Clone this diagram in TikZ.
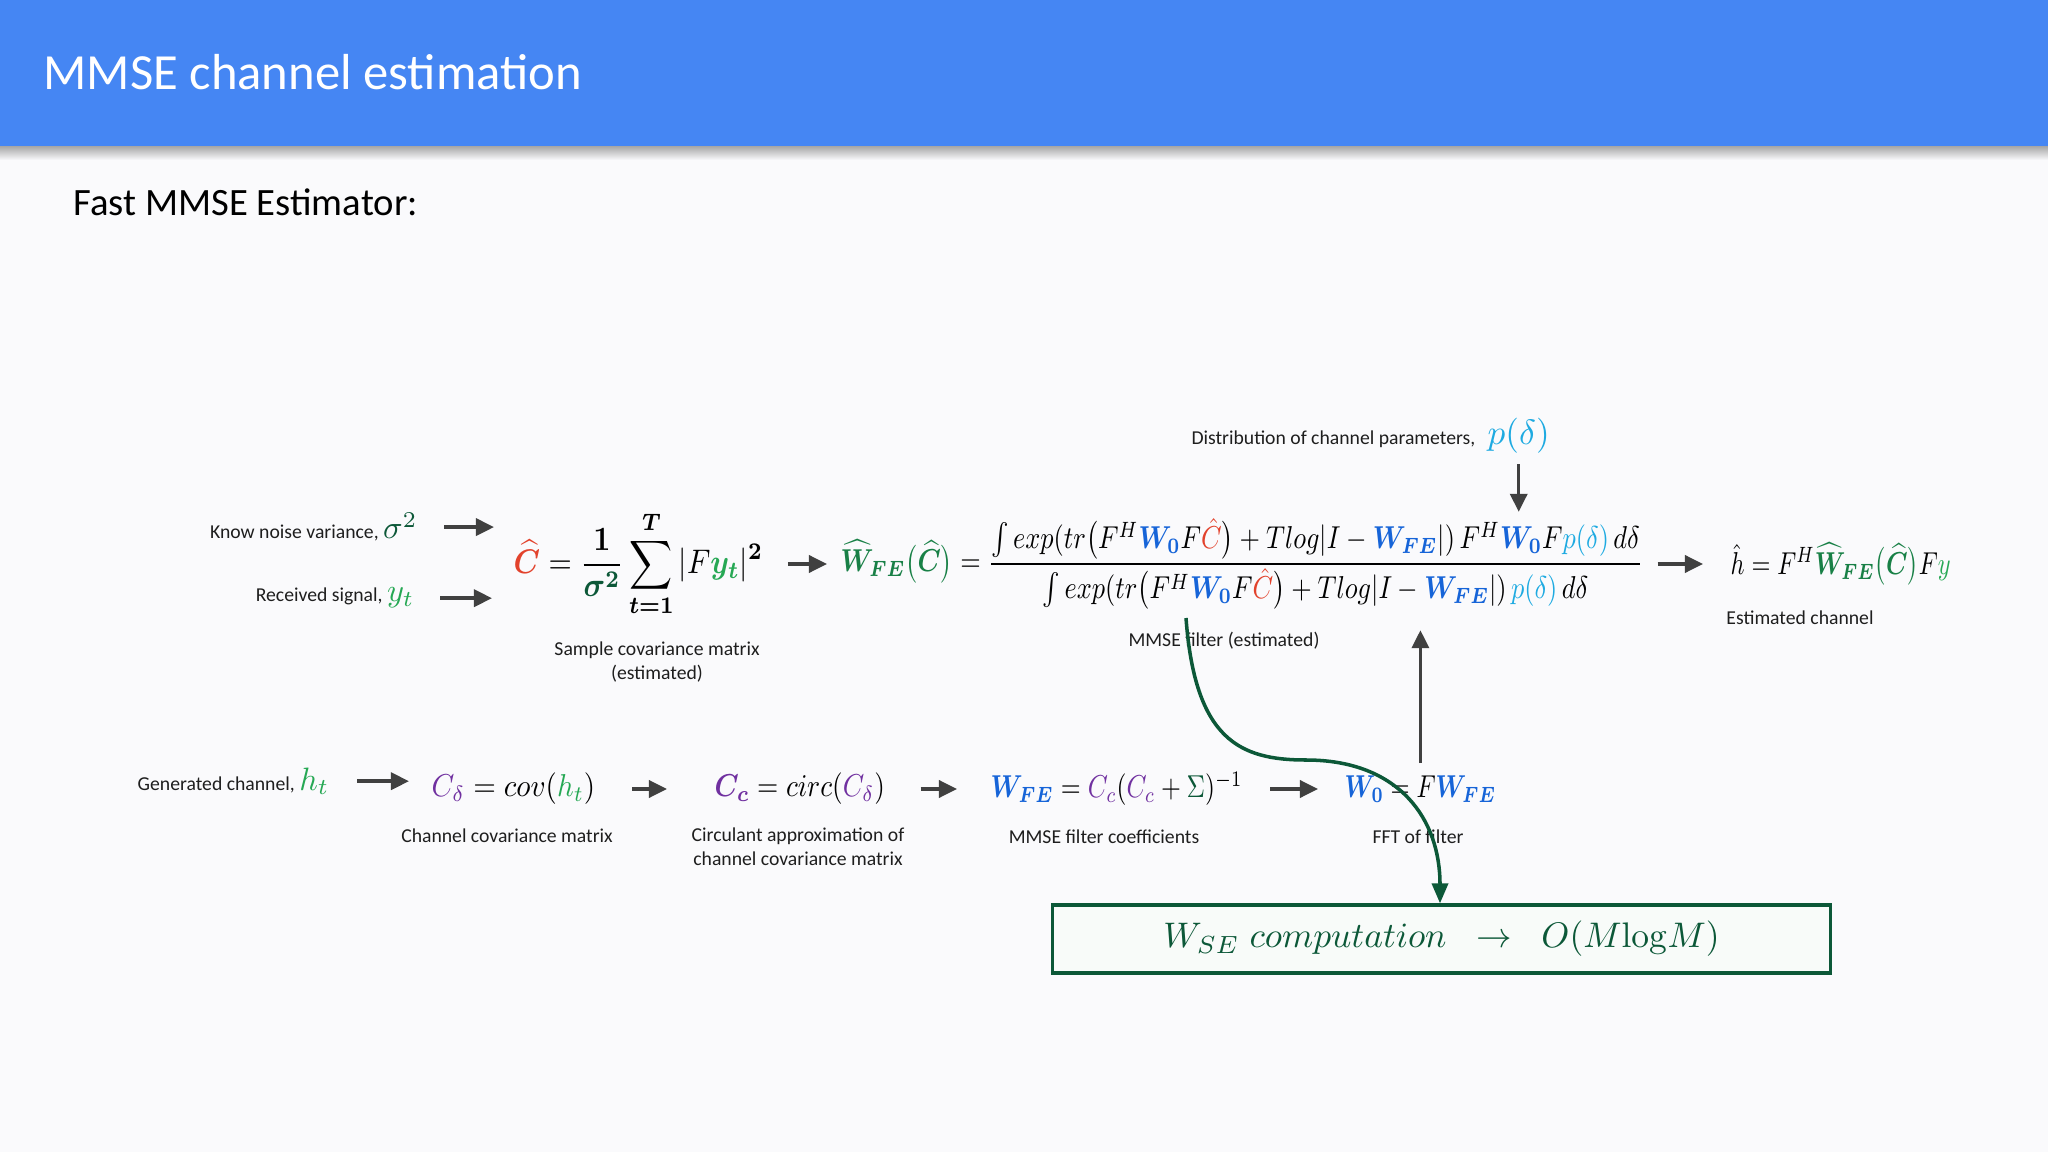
\RequirePackage{fix-cm}
\documentclass[tikz,border=0pt]{standalone}
\usepackage{amsmath}
\usepackage{bm}
\usepackage[no-math]{fontspec}
\setmainfont{Carlito}
\usetikzlibrary{arrows.meta,positioning}
\definecolor{hdrblue}{RGB}{69,134,243}
\definecolor{bgwhite}{RGB}{250,250,252}
\definecolor{boxfill}{RGB}{248,251,249}
\definecolor{dkgreen}{RGB}{12,88,56}
\definecolor{ygreen}{RGB}{38,168,84}
\definecolor{wgreen}{RGB}{24,128,70}
\definecolor{chatred}{RGB}{226,66,44}
\definecolor{wblue}{RGB}{22,100,216}
\definecolor{pblue}{RGB}{30,170,225}
\definecolor{cpurple}{RGB}{112,48,160}
\definecolor{arrowgrey}{RGB}{64,64,64}
\definecolor{lbltext}{RGB}{30,30,30}
\newcommand{\lsz}{\fontsize{5.6}{6.8}\selectfont}
\newcommand{\sqz}[3][0.9]{\scalebox{#2}[#1]{#3}}
\newcommand{\lmath}[1]{{\normalsize\scalebox{0.92}{$#1$}}}
\newcommand{\Wzero}{\textcolor{wblue}{\bm{W}_{\bm{0}}}}
\newcommand{\Wfilt}{\textcolor{wblue}{\bm{W}_{\bm{FE}}}}
\newcommand{\Cest}{\textcolor{chatred}{\hat{C}}}
\newcommand{\pdel}{\textcolor{pblue}{p(\delta)}}
\newcommand{\Whatfe}{\textcolor{wgreen}{\widehat{\bm{W}}_{\bm{FE}}\bigl(\widehat{\bm{C}}\bigr)}}
\tikzstyle{formula} = [font=\normalsize, inner sep=0pt]
\tikzstyle{lbl} = [font=\lsz, text=lbltext, inner sep=0pt, align=center]
\tikzstyle{arrow} = [line width=1pt, color=arrowgrey, -{Triangle[length=1.8mm, width=1.7mm]}]
\tikzstyle{curve} = [line width=1pt, color=dkgreen, -{Triangle[length=2mm, width=1.6mm]}]
\tikzstyle{resultbox} = [draw=dkgreen, line width=0.9pt, fill=boxfill, minimum width=7.77cm, minimum height=0.68cm, text=dkgreen, font=\fontsize{10.1}{12}\selectfont]
\begin{document}
\begin{tikzpicture}[x=0.01cm, y=-0.01cm]
\useasboundingbox (0,0) rectangle (2048,1152);
% Slide background and header
\fill[bgwhite] (0,0) rectangle (2048,1152);
\shade[top color=black!35, bottom color=bgwhite] (0,146) rectangle (2048,160);
\fill[hdrblue] (0,0) rectangle (2048,146);
\node[anchor=west, inner sep=0pt, text=white, font=\fontsize{14.4}{17}\selectfont] (title) at (43,72) {MMSE channel estimation};
\node[anchor=west, inner sep=0pt, font=\fontsize{11}{13}\selectfont] (subtitle) at (73,202) {Fast MMSE Estimator:};

% Estimated filter path
\node[lbl, anchor=base east] (noise) at (418,539) {Know noise variance,~\lmath{\textcolor{dkgreen}{\sigma^2}}};
\node[lbl, anchor=base east] (received) at (415,602) {Received signal,~\lmath{\textcolor{ygreen}{y_t}}};
\node[formula, anchor=west] (chat) at (513,564) {\sqz[0.97]{0.851}{$\displaystyle \textcolor{chatred}{\widehat{\bm{C}}} = \frac{\bm{1}}{\textcolor{dkgreen}{\bm{\sigma}^{\bm{2}}}}\sum_{\bm{t=1}}^{\bm{T}}|F\textcolor{ygreen}{\bm{y}_{\bm{t}}}|^{\bm{2}}$}};
\node[lbl] (chatlbl) at (657,662) {Sample covariance matrix\\(estimated)};
\node[formula, anchor=west] (wfe) at (840,564) {\sqz{0.748}{$\Whatfe = \dfrac{\int exp(tr\bigl(F^H\Wzero F\Cest\bigr)+T log|I-\Wfilt|)\,F^H\Wzero F\pdel\,d\delta}{\int exp(tr\bigl(F^H\Wzero F\Cest\bigr)+T log|I-\Wfilt|)\,\pdel\,d\delta}$}};
\node[lbl] (wfelbl) at (1224,641) {MMSE filter (estimated)};
\node[lbl, anchor=base east] (pdist) at (1476,445) {Distribution of channel parameters,};
\node[formula, anchor=base west] (pdelta) at ([xshift=0.11cm]pdist.base east) {$\pdel$};
\node[formula, anchor=west] (hhat) at (1730,564) {\sqz{0.693}{$\hat{h} = F^H\Whatfe F\textcolor{ygreen}{y}$}};
\node[lbl] (hhatlbl) at (1800,618) {Estimated channel};

% Filter design path
\node[lbl, anchor=base east] (gen) at (330,790) {Generated channel,~\lmath{\textcolor{ygreen}{h_t}}};
\node[formula, anchor=west] (ccov) at (431,789) {\sqz{0.826}{$\textcolor{cpurple}{C_\delta} = cov(\textcolor{ygreen}{h_t})$}};
\node[lbl] (ccovlbl) at (507,836) {Channel covariance matrix};
\node[formula, anchor=west] (ccirc) at (714,789) {\sqz{0.777}{$\textcolor{cpurple}{\bm{C}_{\bm{c}}} = circ(\textcolor{cpurple}{C_\delta})$}};
\node[lbl] (ccirclbl) at (798,847) {Circulant approximation of\\channel covariance matrix};
\node[formula, anchor=west] (wmmse) at (990,789) {\sqz{0.728}{$\Wfilt = \textcolor{cpurple}{C_c}(\textcolor{cpurple}{C_c}+\textcolor{dkgreen}{\Sigma})^{-1}$}};
\node[lbl] (wmmselbl) at (1104,837) {MMSE filter coefficients};
\node[formula, anchor=west] (w0) at (1344,789) {\sqz{0.697}{$\Wzero = F\Wfilt$}};
\node[lbl] (w0lbl) at (1418,837) {FFT of filter};

% Complexity box
\node[resultbox] (wse) at (1441.5,939) {$W_{SE}\;computation\;\;\rightarrow\;\;O(M\mathrm{log}M)$};

% Connectors
\draw[arrow, shorten <=0.26cm, shorten >=0.19cm] (noise.east) -- (noise.east -| chat.west);
\draw[arrow, shorten <=0.25cm, shorten >=0.21cm] (received.east) -- (received.east -| chat.west);
\draw[arrow, shorten <=0.24cm, shorten >=0.13cm] (chat.east) -- (wfe.west);
\draw[arrow, shorten <=0.14cm, shorten >=0.27cm] (wfe.east) -- (hhat.west);
\draw[arrow, shorten <=0.1cm, shorten >=0.06cm] (pdelta.south) -- (pdelta.south |- wfe.north);
\draw[arrow, shorten <=0.12cm, shorten >=0.2cm] (w0.north) -- (w0.north |- wfe.south);
\draw[arrow, shorten <=0.27cm, shorten >=0.22cm] (gen.east) -- (gen.east -| ccov.west);
\draw[arrow, shorten <=0.36cm, shorten >=0.47cm] (ccov.east) -- (ccirc.west);
\draw[arrow, shorten <=0.35cm, shorten >=0.33cm] (ccirc.east) -- (wmmse.west);
\draw[arrow, shorten <=0.27cm, shorten >=0.26cm] (wmmse.east) -- (w0.west);
\coordinate (mmsetop) at (1186,618);
\coordinate (bend) at (1306,760);
\draw[curve] (mmsetop) .. controls (1195,740) and (1240,760) .. (bend) .. controls (1400,760) and (1440,820) .. (1440,0 |- wse.north);
\end{tikzpicture}
\end{document}
